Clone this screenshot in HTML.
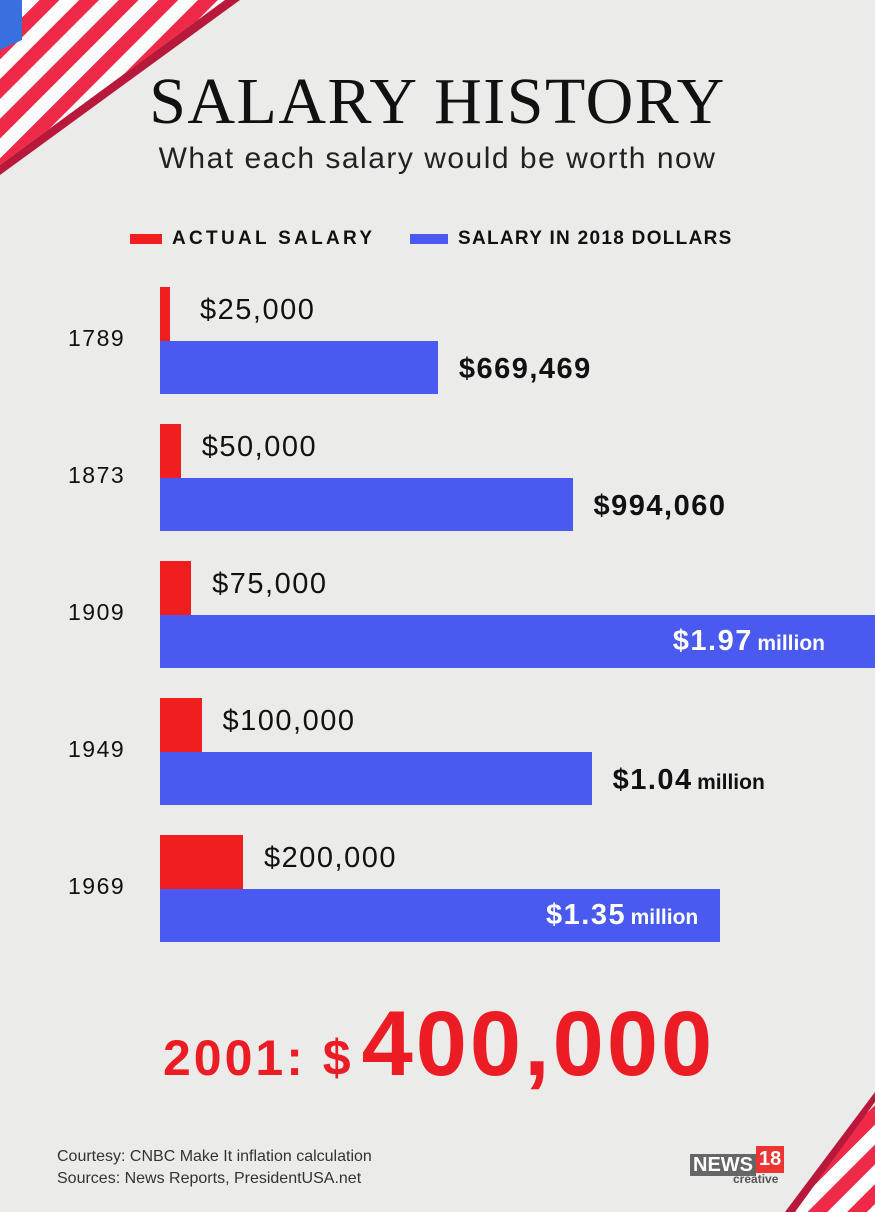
<!DOCTYPE html>
<html><head><meta charset="utf-8"><style>
body{margin:0;width:875px;height:1212px;overflow:hidden;background:#ebebea;font-family:"Liberation Sans",sans-serif;position:relative}
.a{position:absolute}
</style></head><body>
<svg class="a" style="left:0;top:0" width="875" height="1212">
<defs><pattern id="st" width="28" height="28" patternUnits="userSpaceOnUse" patternTransform="rotate(-45)"><rect width="28" height="14" fill="#ee2a48"/><rect y="14" width="28" height="14" fill="#fff"/></pattern></defs>
<polygon points="0,0 225,0 0,165" fill="url(#st)"/>
<polygon points="225,0 240,0 0,175 0,165" fill="#b8183a"/>
<polygon points="0,0 22,0 22,40 0,50" fill="#3a6fe0"/>
<polygon points="875,1100 875,1212 795,1212" fill="url(#st)"/>
<polygon points="875,1092 875,1102 795,1212 785,1212" fill="#b8183a"/>
</svg>
<div class="a" style="left:0;width:875px;top:64px;text-align:center;font-family:'Liberation Serif',serif;font-size:66px;color:#111;letter-spacing:1.5px">SALARY HISTORY</div>
<div class="a" style="left:0;width:875px;top:142px;text-align:center;font-size:30px;letter-spacing:1.5px;color:#222">What each salary would be worth now</div>
<div class="a" style="left:130px;top:228px;font-size:19px;font-weight:bold;letter-spacing:3.3px;color:#111"><span style="display:inline-block;width:32px;height:10px;background:#f01e1e;margin-right:10px;vertical-align:middle"></span>ACTUAL SALARY</div>
<div class="a" style="left:410px;top:228px;font-size:19px;font-weight:bold;letter-spacing:1.3px;color:#111"><span style="display:inline-block;width:38px;height:10px;background:#4a5af0;margin-right:10px;vertical-align:middle"></span>SALARY IN 2018 DOLLARS</div>
<div id="chart"></div>
<div class="a" style="left:163px;top:992px;color:#ec1c24;font-weight:bold;white-space:nowrap"><span style="font-size:50px;letter-spacing:3px">2001: $</span><span style="font-size:92px;letter-spacing:3px;margin-left:8px">400,000</span></div>
<div class="a" style="left:57px;top:1146px;font-size:16px;color:#333;line-height:22px">Courtesy: CNBC Make It inflation calculation<br>Sources: News Reports, PresidentUSA.net</div>
<div class="a" style="left:690px;top:1146px">
<span style="display:inline-block;background:#666;color:#fff;font-weight:bold;font-size:20px;padding:0 3px;height:22px;line-height:22px;margin-top:8px;vertical-align:top">NEWS</span><span style="display:inline-block;background:#e33;color:#fff;font-weight:bold;font-size:20px;padding:2px 3px;vertical-align:top">18</span>
<div style="font-size:12px;font-weight:bold;color:#555;margin-left:43px;margin-top:-4px">creative</div></div>
<script>
const years=["1789","1873","1909","1949","1969"];
const actual=[25000,50000,75000,100000,200000];
const adjusted=[669469,994060,1970000,1040000,1350000];
const adjLabels=["$669,469","$994,060","$1.97|million","$1.04|million","$1.35|million"];
const actLabels=["$25,000","$50,000","$75,000","$100,000","$200,000"];
const x0=160,scale=415/1e6;
const xs=v=>x0+v*scale;
const c=document.getElementById('chart');
years.forEach((y,i)=>{
 const top=287+i*137;
 const r=document.createElement('div');r.className='a';
 
 
 r.style.cssText=`left:${x0}px;top:${top}px;width:${xs(actual[i])-x0}px;height:54px;background:#f01e1e`;c.appendChild(r);
 const b=document.createElement('div');b.className='a';
 
 
 const bw=Math.min(xs(adjusted[i]),875)-x0;
 b.style.cssText=`left:${x0}px;top:${top+54}px;width:${bw}px;height:53px;background:#4a5af0`;c.appendChild(b);
 const yl=document.createElement('div');yl.className='a';
 
 
 yl.style.cssText=`left:68px;top:${top+38}px;font-size:23px;letter-spacing:1.5px;color:#111`;yl.textContent=y;c.appendChild(yl);
 const al=document.createElement('div');al.className='a';
 
 
 al.style.cssText=`left:${Math.max(200,xs(actual[i])+21)}px;top:${top+7}px;font-size:29px;letter-spacing:1.5px;color:#111;white-space:nowrap`;al.textContent=actLabels[i];c.appendChild(al);
 const p=adjLabels[i].split('|');
 const vl=document.createElement('div');vl.className='a';
 
 
 const inside=xs(adjusted[i])>700;
 const html=`<span style="font-size:29px;font-weight:bold;letter-spacing:1.5px">${p[0]}</span>`+(p[1]?` <span style="font-size:21px;font-weight:bold">${p[1]}</span>`:'');
 if(inside){const right=875-Math.min(xs(adjusted[i]),875)+(xs(adjusted[i])>875?50:22);vl.style.cssText=`right:${right}px;top:${top+64}px;color:#fff;white-space:nowrap`;}
 else vl.style.cssText=`left:${xs(adjusted[i])+21}px;top:${top+66}px;color:#111;white-space:nowrap`;
 vl.innerHTML=html;c.appendChild(vl);
});
</script>
</body></html>
